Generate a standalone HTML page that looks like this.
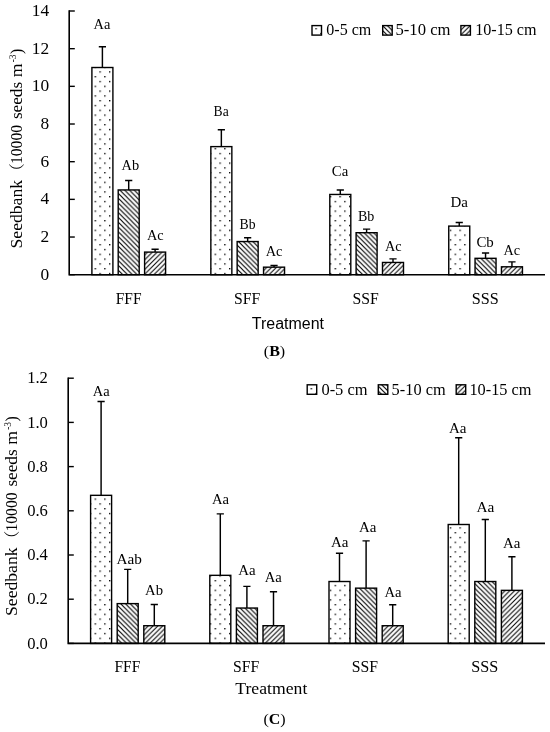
<!DOCTYPE html>
<html lang="en"><head><meta charset="utf-8"><title>Seedbank charts</title>
<style>html,body{margin:0;padding:0;background:#fff}svg{display:block}text{font-family:'Liberation Serif', serif;fill:#000}</style>
</head><body>
<svg width="550" height="732" viewBox="0 0 550 732">
<defs>
<pattern id="dots" patternUnits="userSpaceOnUse" width="9.6" height="9.6" x="3.4" y="4.05"><rect width="9.6" height="9.6" fill="#fff"/><rect x="0" y="0" width="1.35" height="1.35" fill="#000"/><rect x="4.8" y="4.8" width="1.35" height="1.35" fill="#000"/></pattern>
<pattern id="dd" patternUnits="userSpaceOnUse" width="4.8" height="4.8" x="0" y="3.1"><rect width="4.8" height="4.8" fill="#fff"/><path d="M-1.2 -1.2L6 6M-1.2 3.6L1.2 6M3.6 -1.2L6 1.2" stroke="#000" stroke-width="1.15"/></pattern>
<pattern id="du" patternUnits="userSpaceOnUse" width="4.8" height="4.8" x="1.35" y="0"><rect width="4.8" height="4.8" fill="#fff"/><path d="M-1.2 6L6 -1.2M-1.2 1.2L1.2 -1.2M3.6 6L6 3.6" stroke="#000" stroke-width="1.05"/></pattern>
</defs>
<rect width="550" height="732" fill="#fff"/>
<rect x="91.90" y="67.51" width="21.0" height="207.19" fill="url(#dots)" stroke="#000" stroke-width="1.4"/>
<path d="M102.40 67.51V46.79M98.80 46.79H106.00" stroke="#000" stroke-width="1.45" fill="none"/>
<rect x="118.20" y="189.94" width="21.0" height="84.76" fill="url(#dd)" stroke="#000" stroke-width="1.4"/>
<path d="M128.70 189.94V180.52M125.10 180.52H132.30" stroke="#000" stroke-width="1.45" fill="none"/>
<rect x="144.60" y="252.10" width="21.0" height="22.60" fill="url(#du)" stroke="#000" stroke-width="1.4"/>
<path d="M155.10 252.10V249.27M151.50 249.27H158.70" stroke="#000" stroke-width="1.45" fill="none"/>
<rect x="210.85" y="146.62" width="21.0" height="128.08" fill="url(#dots)" stroke="#000" stroke-width="1.4"/>
<path d="M221.35 146.62V129.66M217.75 129.66H224.95" stroke="#000" stroke-width="1.45" fill="none"/>
<rect x="237.15" y="241.55" width="21.0" height="33.15" fill="url(#dd)" stroke="#000" stroke-width="1.4"/>
<path d="M247.65 241.55V237.78M244.05 237.78H251.25" stroke="#000" stroke-width="1.45" fill="none"/>
<rect x="263.55" y="267.17" width="21.0" height="7.53" fill="url(#du)" stroke="#000" stroke-width="1.4"/>
<path d="M274.05 267.17V265.47M270.45 265.47H277.65" stroke="#000" stroke-width="1.45" fill="none"/>
<rect x="329.80" y="194.46" width="21.0" height="80.24" fill="url(#dots)" stroke="#000" stroke-width="1.4"/>
<path d="M340.30 194.46V189.94M336.70 189.94H343.90" stroke="#000" stroke-width="1.45" fill="none"/>
<rect x="356.10" y="232.70" width="21.0" height="42.00" fill="url(#dd)" stroke="#000" stroke-width="1.4"/>
<path d="M366.60 232.70V229.12M363.00 229.12H370.20" stroke="#000" stroke-width="1.45" fill="none"/>
<rect x="382.50" y="262.46" width="21.0" height="12.24" fill="url(#du)" stroke="#000" stroke-width="1.4"/>
<path d="M393.00 262.46V258.88M389.40 258.88H396.60" stroke="#000" stroke-width="1.45" fill="none"/>
<rect x="448.75" y="226.10" width="21.0" height="48.60" fill="url(#dots)" stroke="#000" stroke-width="1.4"/>
<path d="M459.25 226.10V222.53M455.65 222.53H462.85" stroke="#000" stroke-width="1.45" fill="none"/>
<rect x="475.05" y="258.31" width="21.0" height="16.39" fill="url(#dd)" stroke="#000" stroke-width="1.4"/>
<path d="M485.55 258.31V253.04M481.95 253.04H489.15" stroke="#000" stroke-width="1.45" fill="none"/>
<rect x="501.45" y="266.79" width="21.0" height="7.91" fill="url(#du)" stroke="#000" stroke-width="1.4"/>
<path d="M511.95 266.79V261.89M508.35 261.89H515.55" stroke="#000" stroke-width="1.45" fill="none"/>
<path d="M69.2 10.30V274.7H545" stroke="#000" stroke-width="1.6" fill="none"/>
<path d="M69.2 274.70H74.8" stroke="#000" stroke-width="1.4"/>
<text x="40.52" y="279.80" font-size="16" text-anchor="start" textLength="8.68" lengthAdjust="spacingAndGlyphs">0</text>
<path d="M69.2 237.03H74.8" stroke="#000" stroke-width="1.4"/>
<text x="40.52" y="242.13" font-size="16" text-anchor="start" textLength="8.68" lengthAdjust="spacingAndGlyphs">2</text>
<path d="M69.2 199.36H74.8" stroke="#000" stroke-width="1.4"/>
<text x="40.52" y="204.46" font-size="16" text-anchor="start" textLength="8.68" lengthAdjust="spacingAndGlyphs">4</text>
<path d="M69.2 161.69H74.8" stroke="#000" stroke-width="1.4"/>
<text x="40.52" y="166.79" font-size="16" text-anchor="start" textLength="8.68" lengthAdjust="spacingAndGlyphs">6</text>
<path d="M69.2 124.01H74.8" stroke="#000" stroke-width="1.4"/>
<text x="40.52" y="129.11" font-size="16" text-anchor="start" textLength="8.68" lengthAdjust="spacingAndGlyphs">8</text>
<path d="M69.2 86.34H74.8" stroke="#000" stroke-width="1.4"/>
<text x="31.84" y="91.44" font-size="16" text-anchor="start" textLength="17.36" lengthAdjust="spacingAndGlyphs">10</text>
<path d="M69.2 48.67H74.8" stroke="#000" stroke-width="1.4"/>
<text x="31.84" y="53.77" font-size="16" text-anchor="start" textLength="17.36" lengthAdjust="spacingAndGlyphs">12</text>
<path d="M69.2 11.00H74.8" stroke="#000" stroke-width="1.4"/>
<text x="31.84" y="16.10" font-size="16" text-anchor="start" textLength="17.36" lengthAdjust="spacingAndGlyphs">14</text>
<text x="93.6" y="28.8" font-size="13.8" text-anchor="start" textLength="16.8" lengthAdjust="spacingAndGlyphs">Aa</text>
<text x="121.5" y="170" font-size="13.8" text-anchor="start" textLength="17.6" lengthAdjust="spacingAndGlyphs">Ab</text>
<text x="146.9" y="240.4" font-size="13.8" text-anchor="start" textLength="16.7" lengthAdjust="spacingAndGlyphs">Ac</text>
<text x="213.6" y="116" font-size="13.8" text-anchor="start" textLength="15.1" lengthAdjust="spacingAndGlyphs">Ba</text>
<text x="239.5" y="229.1" font-size="13.8" text-anchor="start" textLength="16" lengthAdjust="spacingAndGlyphs">Bb</text>
<text x="265.7" y="255.7" font-size="13.8" text-anchor="start" textLength="16.8" lengthAdjust="spacingAndGlyphs">Ac</text>
<text x="331.8" y="175.6" font-size="13.8" text-anchor="start" textLength="16.4" lengthAdjust="spacingAndGlyphs">Ca</text>
<text x="358" y="221" font-size="13.8" text-anchor="start" textLength="16.4" lengthAdjust="spacingAndGlyphs">Bb</text>
<text x="385" y="251" font-size="13.8" text-anchor="start" textLength="16.6" lengthAdjust="spacingAndGlyphs">Ac</text>
<text x="450.5" y="206.5" font-size="13.8" text-anchor="start" textLength="17.5" lengthAdjust="spacingAndGlyphs">Da</text>
<text x="476.4" y="247.2" font-size="13.8" text-anchor="start" textLength="17.4" lengthAdjust="spacingAndGlyphs">Cb</text>
<text x="503.4" y="255.4" font-size="13.8" text-anchor="start" textLength="16.6" lengthAdjust="spacingAndGlyphs">Ac</text>
<text x="128.68" y="303.5" font-size="16" text-anchor="middle" textLength="25.8" lengthAdjust="spacingAndGlyphs">FFF</text>
<text x="247.22" y="303.5" font-size="16" text-anchor="middle" textLength="26.2" lengthAdjust="spacingAndGlyphs">SFF</text>
<text x="365.57" y="303.5" font-size="16" text-anchor="middle" textLength="26.2" lengthAdjust="spacingAndGlyphs">SSF</text>
<text x="485.32" y="303.5" font-size="16" text-anchor="middle" textLength="27.0" lengthAdjust="spacingAndGlyphs">SSS</text>
<rect x="312" y="25.6" width="9.5" height="9.5" fill="url(#dots)" stroke="#000" stroke-width="1.4"/>
<text x="326.3" y="35.3" font-size="16" text-anchor="start" textLength="45" lengthAdjust="spacingAndGlyphs">0-5 cm</text>
<rect x="382.7" y="25.6" width="9.5" height="9.5" fill="url(#dd)" stroke="#000" stroke-width="1.4"/>
<text x="395.5" y="35.3" font-size="16" text-anchor="start" textLength="55" lengthAdjust="spacingAndGlyphs">5-10 cm</text>
<rect x="460.9" y="25.6" width="9.5" height="9.5" fill="url(#du)" stroke="#000" stroke-width="1.4"/>
<text x="475.2" y="35.3" font-size="16" text-anchor="start" textLength="61.4" lengthAdjust="spacingAndGlyphs">10-15 cm</text>
<g transform="translate(22.1 248.5) rotate(-90)" font-size="16">
<text x="0" y="0" font-size="16" text-anchor="start" textLength="68.6" lengthAdjust="spacingAndGlyphs">Seedbank</text>
<text x="69.2" y="0" font-size="16" style="font-family:'Liberation Serif','Noto Serif CJK SC',serif">（</text>
<text x="84.4" y="0" font-size="16" text-anchor="start" textLength="39.2" lengthAdjust="spacingAndGlyphs">10000</text>
<text x="129.4" y="0" font-size="16" text-anchor="start" textLength="37.2" lengthAdjust="spacingAndGlyphs">seeds</text>
<text x="171.3" y="0" font-size="16" text-anchor="start" textLength="13.7" lengthAdjust="spacingAndGlyphs">m</text>
<text x="186.2" y="-6.1" font-size="10" text-anchor="start" textLength="7.9" lengthAdjust="spacingAndGlyphs">-3</text>
<text x="194.6" y="0" font-size="16" text-anchor="start">)</text>
</g>
<text x="251.8" y="328.7" font-size="16" text-anchor="start" textLength="72.2" lengthAdjust="spacingAndGlyphs" style="font-family:'Liberation Sans',sans-serif">Treatment</text>
<text x="263.8" y="355.7" font-size="15.2" textLength="21.4" lengthAdjust="spacingAndGlyphs">(<tspan font-weight="bold">B</tspan>)</text>
<rect x="90.60" y="495.33" width="21.0" height="148.07" fill="url(#dots)" stroke="#000" stroke-width="1.4"/>
<path d="M101.10 495.33V401.40M97.50 401.40H104.70" stroke="#000" stroke-width="1.45" fill="none"/>
<rect x="117.20" y="603.62" width="21.0" height="39.78" fill="url(#dd)" stroke="#000" stroke-width="1.4"/>
<path d="M127.70 603.62V569.37M124.10 569.37H131.30" stroke="#000" stroke-width="1.45" fill="none"/>
<rect x="143.80" y="625.72" width="21.0" height="17.68" fill="url(#du)" stroke="#000" stroke-width="1.4"/>
<path d="M154.30 625.72V604.50M150.70 604.50H157.90" stroke="#000" stroke-width="1.45" fill="none"/>
<rect x="209.80" y="575.33" width="21.0" height="68.07" fill="url(#dots)" stroke="#000" stroke-width="1.4"/>
<path d="M220.30 575.33V513.89M216.70 513.89H223.90" stroke="#000" stroke-width="1.45" fill="none"/>
<rect x="236.40" y="608.04" width="21.0" height="35.36" fill="url(#dd)" stroke="#000" stroke-width="1.4"/>
<path d="M246.90 608.04V586.38M243.30 586.38H250.50" stroke="#000" stroke-width="1.45" fill="none"/>
<rect x="263.00" y="625.72" width="21.0" height="17.68" fill="url(#du)" stroke="#000" stroke-width="1.4"/>
<path d="M273.50 625.72V591.69M269.90 591.69H277.10" stroke="#000" stroke-width="1.45" fill="none"/>
<rect x="329.00" y="581.52" width="21.0" height="61.88" fill="url(#dots)" stroke="#000" stroke-width="1.4"/>
<path d="M339.50 581.52V553.23M335.90 553.23H343.10" stroke="#000" stroke-width="1.45" fill="none"/>
<rect x="355.60" y="588.15" width="21.0" height="55.25" fill="url(#dd)" stroke="#000" stroke-width="1.4"/>
<path d="M366.10 588.15V540.86M362.50 540.86H369.70" stroke="#000" stroke-width="1.45" fill="none"/>
<rect x="382.20" y="625.72" width="21.0" height="17.68" fill="url(#du)" stroke="#000" stroke-width="1.4"/>
<path d="M392.70 625.72V604.73M389.10 604.73H396.30" stroke="#000" stroke-width="1.45" fill="none"/>
<rect x="448.20" y="524.50" width="21.0" height="118.90" fill="url(#dots)" stroke="#000" stroke-width="1.4"/>
<path d="M458.70 524.50V437.65M455.10 437.65H462.30" stroke="#000" stroke-width="1.45" fill="none"/>
<rect x="474.80" y="581.52" width="21.0" height="61.88" fill="url(#dd)" stroke="#000" stroke-width="1.4"/>
<path d="M485.30 581.52V519.42M481.70 519.42H488.90" stroke="#000" stroke-width="1.45" fill="none"/>
<rect x="501.40" y="590.36" width="21.0" height="53.04" fill="url(#du)" stroke="#000" stroke-width="1.4"/>
<path d="M511.90 590.36V556.77M508.30 556.77H515.50" stroke="#000" stroke-width="1.45" fill="none"/>
<path d="M68.2 377.50V643.4H545" stroke="#000" stroke-width="1.6" fill="none"/>
<path d="M68.2 643.40H73.8" stroke="#000" stroke-width="1.4"/>
<text x="27.20" y="648.50" font-size="16" text-anchor="start" textLength="20.70" lengthAdjust="spacingAndGlyphs">0.0</text>
<path d="M68.2 599.20H73.8" stroke="#000" stroke-width="1.4"/>
<text x="27.20" y="604.30" font-size="16" text-anchor="start" textLength="20.70" lengthAdjust="spacingAndGlyphs">0.2</text>
<path d="M68.2 555.00H73.8" stroke="#000" stroke-width="1.4"/>
<text x="27.20" y="560.10" font-size="16" text-anchor="start" textLength="20.70" lengthAdjust="spacingAndGlyphs">0.4</text>
<path d="M68.2 510.80H73.8" stroke="#000" stroke-width="1.4"/>
<text x="27.20" y="515.90" font-size="16" text-anchor="start" textLength="20.70" lengthAdjust="spacingAndGlyphs">0.6</text>
<path d="M68.2 466.60H73.8" stroke="#000" stroke-width="1.4"/>
<text x="27.20" y="471.70" font-size="16" text-anchor="start" textLength="20.70" lengthAdjust="spacingAndGlyphs">0.8</text>
<path d="M68.2 422.40H73.8" stroke="#000" stroke-width="1.4"/>
<text x="27.20" y="427.50" font-size="16" text-anchor="start" textLength="20.70" lengthAdjust="spacingAndGlyphs">1.0</text>
<path d="M68.2 378.20H73.8" stroke="#000" stroke-width="1.4"/>
<text x="27.20" y="383.30" font-size="16" text-anchor="start" textLength="20.70" lengthAdjust="spacingAndGlyphs">1.2</text>
<text x="92.7" y="395.8" font-size="13.8" text-anchor="start" textLength="16.9" lengthAdjust="spacingAndGlyphs">Aa</text>
<text x="116.4" y="563.6" font-size="13.8" text-anchor="start" textLength="25.4" lengthAdjust="spacingAndGlyphs">Aab</text>
<text x="145.1" y="595.1" font-size="13.8" text-anchor="start" textLength="18" lengthAdjust="spacingAndGlyphs">Ab</text>
<text x="212" y="503.6" font-size="13.8" text-anchor="start" textLength="17.1" lengthAdjust="spacingAndGlyphs">Aa</text>
<text x="238.2" y="575.3" font-size="13.8" text-anchor="start" textLength="17.4" lengthAdjust="spacingAndGlyphs">Aa</text>
<text x="264.7" y="581.8" font-size="13.8" text-anchor="start" textLength="17.1" lengthAdjust="spacingAndGlyphs">Aa</text>
<text x="330.9" y="547.3" font-size="13.8" text-anchor="start" textLength="17.5" lengthAdjust="spacingAndGlyphs">Aa</text>
<text x="359.1" y="531.6" font-size="13.8" text-anchor="start" textLength="17.4" lengthAdjust="spacingAndGlyphs">Aa</text>
<text x="384.5" y="596.7" font-size="13.8" text-anchor="start" textLength="17.1" lengthAdjust="spacingAndGlyphs">Aa</text>
<text x="448.9" y="432.7" font-size="13.8" text-anchor="start" textLength="17.5" lengthAdjust="spacingAndGlyphs">Aa</text>
<text x="476.5" y="512" font-size="13.8" text-anchor="start" textLength="17.9" lengthAdjust="spacingAndGlyphs">Aa</text>
<text x="503.1" y="548.4" font-size="13.8" text-anchor="start" textLength="17.4" lengthAdjust="spacingAndGlyphs">Aa</text>
<text x="127.40" y="672.1" font-size="16" text-anchor="middle" textLength="25.8" lengthAdjust="spacingAndGlyphs">FFF</text>
<text x="246.20" y="672.1" font-size="16" text-anchor="middle" textLength="26.2" lengthAdjust="spacingAndGlyphs">SFF</text>
<text x="364.80" y="672.1" font-size="16" text-anchor="middle" textLength="26.2" lengthAdjust="spacingAndGlyphs">SSF</text>
<text x="484.80" y="672.1" font-size="16" text-anchor="middle" textLength="27.0" lengthAdjust="spacingAndGlyphs">SSS</text>
<rect x="307.2" y="384.8" width="9.5" height="9.5" fill="url(#dots)" stroke="#000" stroke-width="1.4"/>
<text x="321.4" y="394.5" font-size="16" text-anchor="start" textLength="46.2" lengthAdjust="spacingAndGlyphs">0-5 cm</text>
<rect x="378.3" y="384.8" width="9.5" height="9.5" fill="url(#dd)" stroke="#000" stroke-width="1.4"/>
<text x="391.6" y="394.5" font-size="16" text-anchor="start" textLength="54" lengthAdjust="spacingAndGlyphs">5-10 cm</text>
<rect x="456.2" y="384.8" width="9.5" height="9.5" fill="url(#du)" stroke="#000" stroke-width="1.4"/>
<text x="469.4" y="394.5" font-size="16" text-anchor="start" textLength="62.1" lengthAdjust="spacingAndGlyphs">10-15 cm</text>
<g transform="translate(16.6 616.0) rotate(-90)" font-size="16">
<text x="0" y="0" font-size="16" text-anchor="start" textLength="68.6" lengthAdjust="spacingAndGlyphs">Seedbank</text>
<text x="69.2" y="0" font-size="16" style="font-family:'Liberation Serif','Noto Serif CJK SC',serif">（</text>
<text x="84.4" y="0" font-size="16" text-anchor="start" textLength="39.2" lengthAdjust="spacingAndGlyphs">10000</text>
<text x="129.4" y="0" font-size="16" text-anchor="start" textLength="37.2" lengthAdjust="spacingAndGlyphs">seeds</text>
<text x="171.3" y="0" font-size="16" text-anchor="start" textLength="13.7" lengthAdjust="spacingAndGlyphs">m</text>
<text x="186.2" y="-6.1" font-size="10" text-anchor="start" textLength="7.9" lengthAdjust="spacingAndGlyphs">-3</text>
<text x="194.6" y="0" font-size="16" text-anchor="start">)</text>
</g>
<text x="235.3" y="693.8" font-size="16" text-anchor="start" textLength="72" lengthAdjust="spacingAndGlyphs">Treatment</text>
<text x="263.5" y="723.5" font-size="15" textLength="22.2" lengthAdjust="spacingAndGlyphs">(<tspan font-weight="bold">C</tspan>)</text>
</svg>
</body></html>
